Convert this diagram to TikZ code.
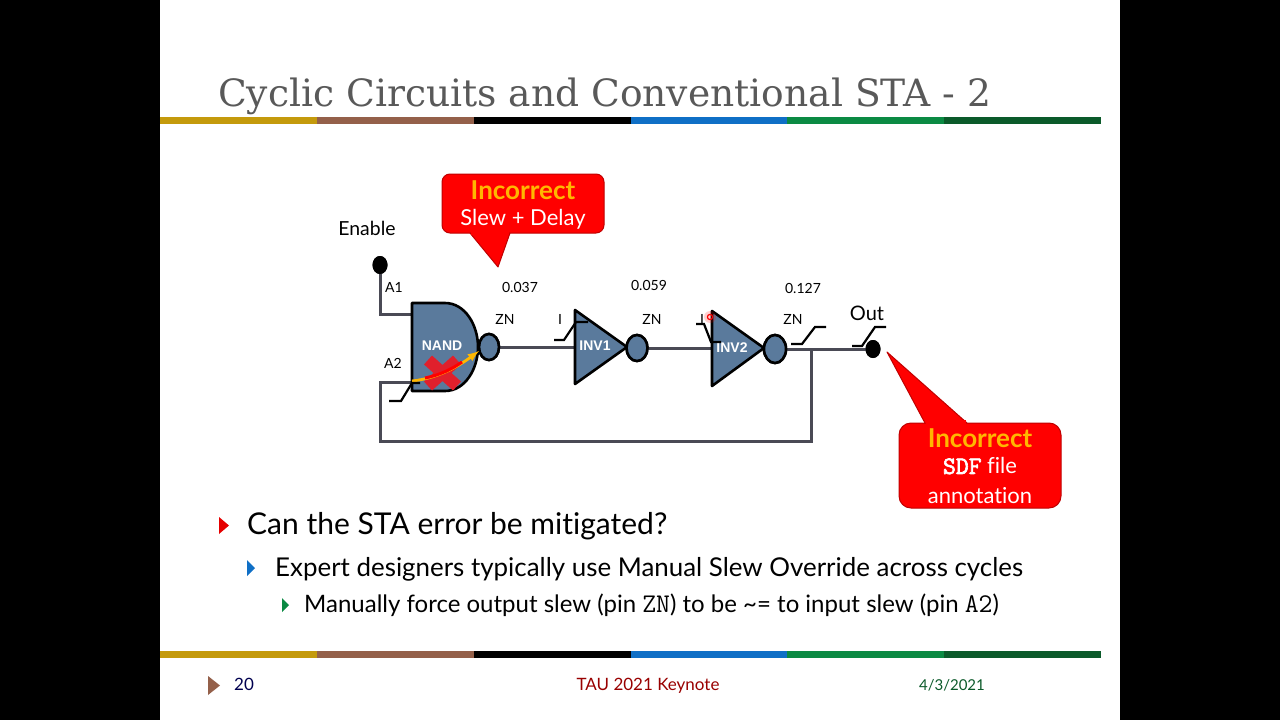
\documentclass[tikz,border=0pt]{standalone}
\usepackage{fontspec}
\setmainfont{Lato}[Ligatures=NoCommon]
\newfontfamily\titlefont{DejaVu Serif}
\newfontfamily\gatefont{Liberation Sans}
\newfontfamily\sdffont[FakeBold=2.5]{Latin Modern Mono}
\usetikzlibrary{shapes.geometric,calc}
\definecolor{gateblue}{HTML}{5A7A9C}
\definecolor{wiregray}{HTML}{4A4A55}
\definecolor{calloutred}{HTML}{FF0000}
\definecolor{calloutedge}{HTML}{C00000}
\definecolor{amber}{HTML}{FFB700}
\definecolor{crossred}{HTML}{E0202C}
\definecolor{titlegray}{HTML}{595959}
\definecolor{barA}{HTML}{C49A0C}
\definecolor{barB}{HTML}{94604A}
\definecolor{barD}{HTML}{0F6FC6}
\definecolor{barE}{HTML}{0B8A43}
\definecolor{barF}{HTML}{0B5A2A}
\tikzset{
  x=1pt,y=-1pt,
  wire/.style={draw=wiregray,line width=3pt,line cap=rect},
  gate/.style={draw=black,fill=gateblue,line width=2.6pt,line join=round},
  bubble/.style={ellipse,draw=black,fill=gateblue,line width=2.6pt,inner sep=0pt,minimum width=20pt,minimum height=26pt},
  pindot/.style={ellipse,fill=black,inner sep=0pt,minimum width=15pt,minimum height=18pt},
  slew/.style={draw=black,line width=2.2pt},
  small/.style={font=\fontsize{14}{16}\selectfont,text=black,inner sep=0pt},
  gatelabel/.style={font=\gatefont\fontsize{14}{16}\selectfont\bfseries,text=white,inner sep=0pt},
  callout/.style={fill=calloutred,draw=calloutedge,line width=1pt,line join=round},
  calltext/.style={inner sep=0pt,text=white,font=\fontsize{22}{24}\selectfont},
  callhead/.style={inner sep=0pt,text=amber,font=\fontsize{26}{28}\selectfont\bfseries},
  bodytext/.style={anchor=base west,inner sep=0pt,text=black},
  foot/.style={inner sep=0pt,font=\fontsize{17}{19}\selectfont},
}
\newcommand{\colorbar}[1]{%
  \fill[barA] (160,#1) rectangle (317,#1+7);
  \fill[barB] (317,#1) rectangle (474,#1+7);
  \fill[black] (474,#1) rectangle (631,#1+7);
  \fill[barD] (631,#1) rectangle (787,#1+7);
  \fill[barE] (787,#1) rectangle (944,#1+7);
  \fill[barF] (944,#1) rectangle (1101,#1+7);
}
\begin{document}
\begin{tikzpicture}
\useasboundingbox (0,0) rectangle (1280,720);
\fill[black] (0,0) rectangle (1280,720);
\fill[white] (160,0) rectangle (1120,720);
\colorbar{117}
\colorbar{651}
\node[anchor=base west,inner sep=0pt,text=titlegray,font=\titlefont\fontsize{37.6}{42}\selectfont] (title) at (218,106) {Cyclic Circuits and Conventional STA - 2};

% pins and junctions
\coordinate (a1in) at (412,314);
\coordinate (a2in) at (412,382);
\coordinate (a1c) at (380,314);
\coordinate (a2c) at (380,382);
\coordinate (fbb) at (380,441);
\coordinate (fbr) at (811,441);
\coordinate (junc) at (811,349);
\coordinate (inv1in) at (575,347);
\coordinate (inv2in) at (712,348);
\node[pindot] (enable) at (380,265) {};
\node[pindot] (out) at (873,349) {};
\node[bubble] (b0) at (489,347) {};
\node[bubble,minimum width=21pt] (b1) at (637,348) {};
\node[bubble,minimum width=22pt,minimum height=28pt] (b2) at (775,349) {};

% wires
\draw[wire] (enable.center) -- (a1c) -- (a1in);
\draw[wire] (b0.center) -- (inv1in);
\draw[wire] (b1.center) -- (inv2in);
\draw[wire] (b2.center) -- (out.center);
\draw[wire] (junc) -- (fbr) -- (fbb) -- (a2c) -- (a2in);

% gates
\draw[gate] (412,303) -- (445,303) .. controls (465,303) and (478,325) .. (478,347) .. controls (478,369) and (465,391) .. (445,391) -- (412,391) -- cycle;
\draw[gate] (575,310) -- (627,347) -- (575,384) -- cycle;
\draw[gate] (712,311) -- (764,348) -- (712,386) -- cycle;
\node[bubble] at (b0) {};
\node[bubble,minimum width=21pt] at (b1) {};
\node[bubble,minimum width=22pt,minimum height=28pt] at (b2) {};
\node[pindot] at (out) {};
\node[pindot] at (enable) {};

% gate labels
\node[gatelabel] (nandl) at (442,346) {NAND};
\node[gatelabel] (inv1l) at (595,346) {INV1};
\node[gatelabel] (inv2l) at (732,348) {INV2};

% cross and arrow
\draw[crossred,line width=12pt] (428,360) -- (457,386);
\draw[crossred,line width=12pt] (457,360) -- (428,386);
\draw[amber,line width=2.8pt,-latex] (412,381) .. controls (440,378) and (460,365) .. (479,351);
\draw[red,line width=3pt] (425,378) .. controls (440,375) and (452,369) .. (462,362);

% slew icons
\draw[slew] (389,401) -- (401,401) -- (412,383) -- (420,383);
\draw[slew] (554,340) -- (564,340) -- (576,322) -- (588,322);
\draw[slew] (696,324) -- (704,324) -- (711,342) -- (721,342);
\draw[slew] (791,344) -- (802,344) -- (815,327) -- (826,327);
\draw[slew] (852,346) -- (862,346) -- (875,327) -- (886,327);

% small labels
\node[small,font=\fontsize{19.4}{22}\selectfont] (enl) at (367,228) {Enable};
\node[small] (a1l) at (394,287) {A1};
\node[small] (a2l) at (393,363) {A2};
\node[small] (zn0) at (505,319) {ZN};
\node[small] (i1) at (560,319) {I};
\node[small] (zn1) at (652,319) {ZN};
\node[small] (i2) at (702,319) {I};
\node[small] (zn2) at (793,319) {ZN};
\node[small] (d0) at (520,287) {0.037};
\node[small] (d1) at (649,285) {0.059};
\node[small] (d2) at (803,288) {0.127};
\node[small,font=\fontsize{20}{22}\selectfont] (outl) at (867,313) {Out};

% cursor mark
\fill[red,opacity=0.18] (710,317) circle (6);
\draw[red,line width=1.2pt] (710,317) circle (2.6);

% callouts
\draw[callout,rounded corners=8pt] (442,174) rectangle (604,233);
\draw[callout] (470,233) -- (498,267) -- (510,233);
\fill[calloutred] (470.8,230) rectangle (509.4,234.5);
\node[callhead] (c1a) at (523,190) {Incorrect};
\node[calltext] (c1b) at (523,219) {Slew + Delay};
\draw[callout,rounded corners=12pt] (899,423) rectangle (1061,508);
\draw[callout] (925,423) -- (887,352) -- (967,423);
\fill[calloutred] (926,420) rectangle (966,425);
\node[callhead] (c2a) at (980,438) {Incorrect};
\node[calltext] (c2b) at (980,466) {{\sdffont\fontsize{25}{27}\selectfont SDF} file};
\node[calltext] (c2c) at (980,496) {annotation};

% bullets
\fill[red!90!black] (219,517) -- (229,525.5) -- (219,534) -- cycle;
\fill[barD] (247,560) -- (255,568) -- (247,576) -- cycle;
\fill[barE] (282,598) -- (289,605) -- (282,612) -- cycle;
\node[bodytext,font=\fontsize{30}{32}\selectfont] (l1) at (247,534) {Can the STA error be mitigated?};
\node[bodytext,font=\fontsize{25.9}{28}\selectfont] (l2) at (275,576) {Expert designers typically use Manual Slew Override across cycles};
\node[bodytext,font=\fontsize{24}{26}\selectfont] (l3) at (304,612) {Manually force output slew (pin {\ttfamily\fontsize{27}{28}\selectfont ZN}) to be \textasciitilde= to input slew (pin {\ttfamily\fontsize{27}{28}\selectfont A2})};

% footer
\fill[barB] (208,676) -- (220,685.5) -- (208,695) -- cycle;
\node[foot,anchor=base west,text=black!30!blue!45!black] (num) at (234,690) {20};
\node[foot,anchor=base,text=red!60!black] (mid) at (648,690) {TAU 2021 Keynote};
\node[foot,anchor=base,font=\fontsize{15}{18}\selectfont,text=barF] (date) at (952,690) {4/3/2021};
\end{tikzpicture}
\end{document}
